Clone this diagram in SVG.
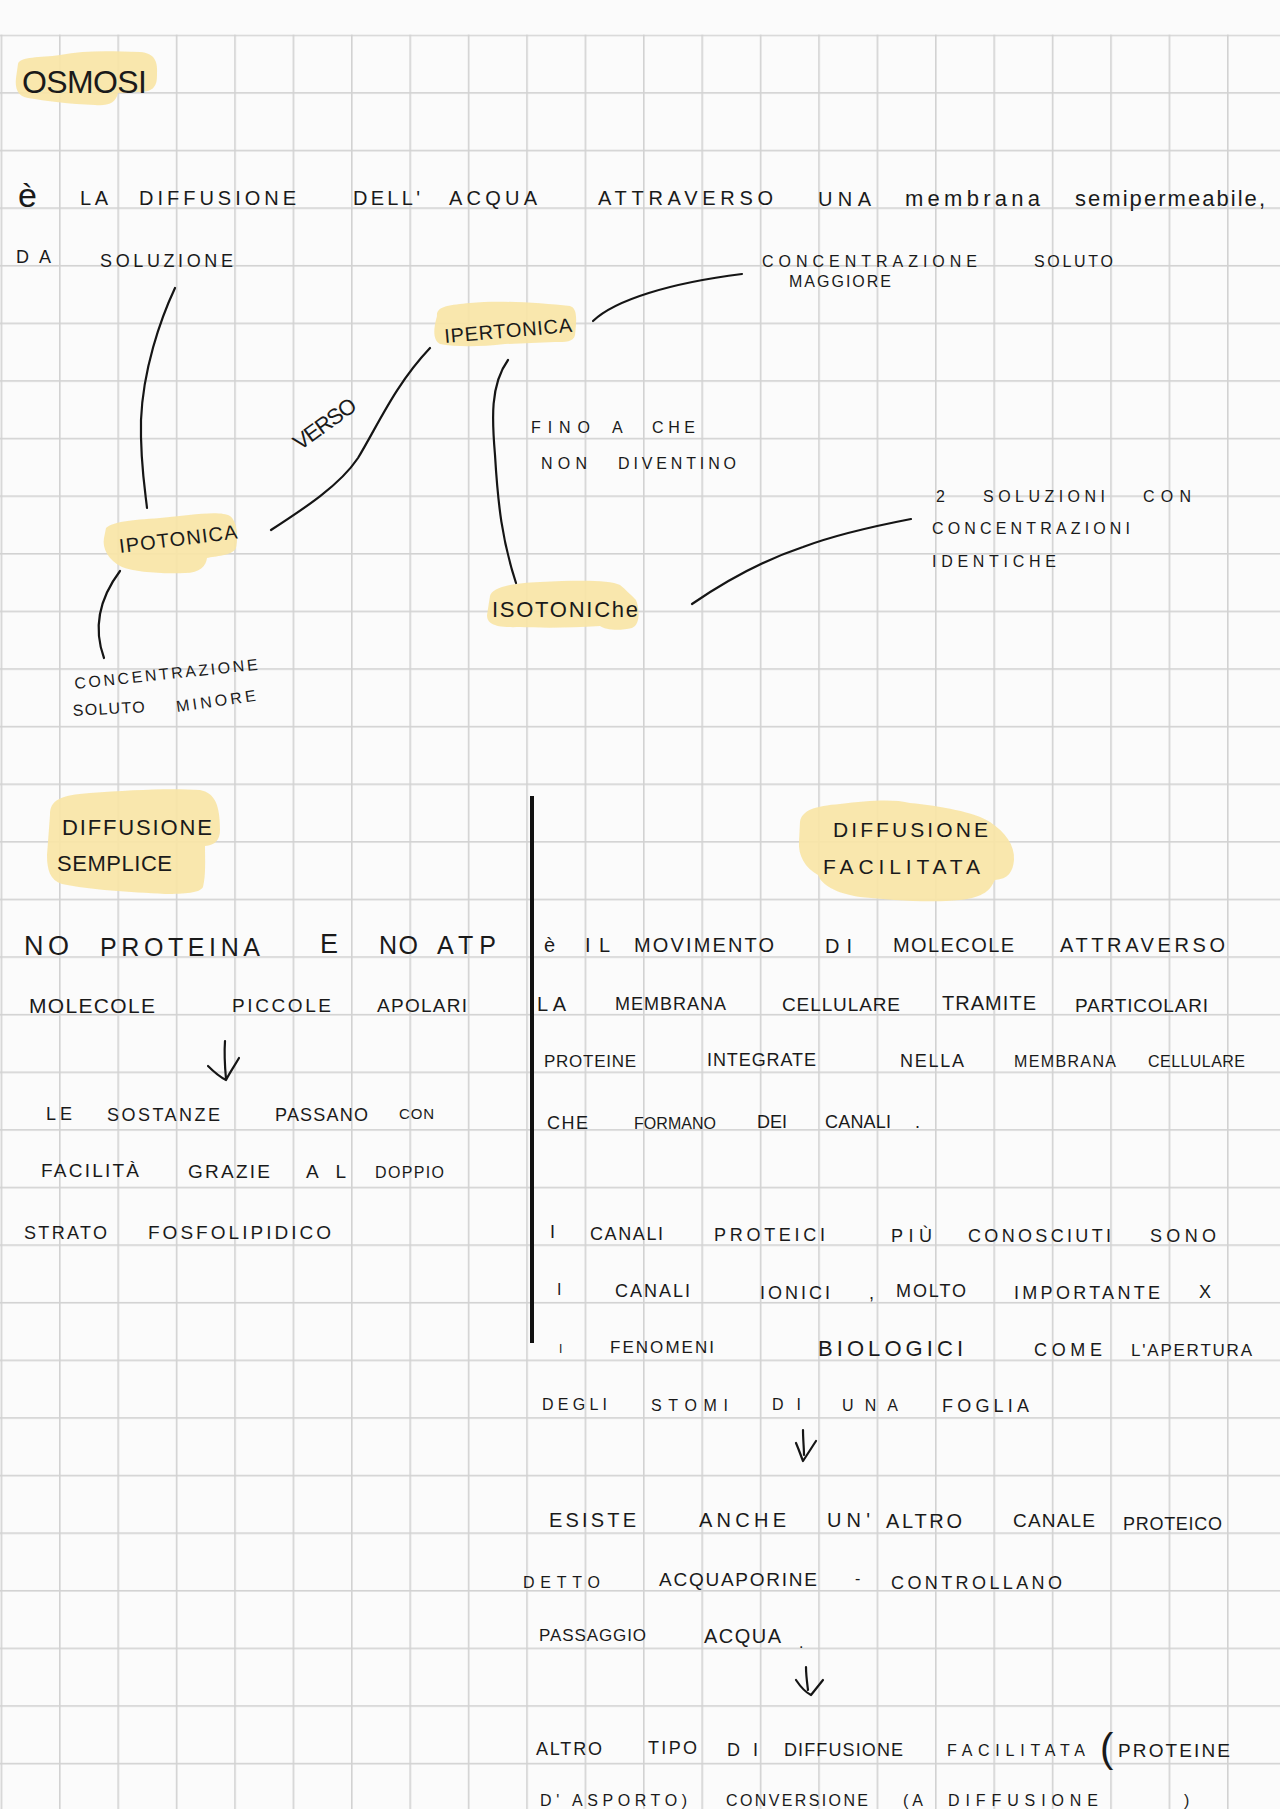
<svg xmlns="http://www.w3.org/2000/svg" width="1280" height="1809" viewBox="0 0 1280 1809">
<defs>
<pattern id="grid" patternUnits="userSpaceOnUse" x="0.6" y="34.5" width="58.4" height="57.61">
<rect x="0" y="0" width="58.4" height="1.6" fill="#d2d2d2"/>
<rect x="0" y="0" width="1.6" height="57.61" fill="#d2d2d2"/>
</pattern>
<style>
text { font-family: "Liberation Sans", Arial, sans-serif; fill: #1a1a1a; }
.hl { fill: #f9e5a6; opacity: 0.92; }
.ink { fill: none; stroke: #151515; stroke-width: 2.2; stroke-linecap: round; stroke-linejoin: round; }
.f15 { font-size: 15px; }
.f16 { font-size: 16px; }
.f17 { font-size: 17px; }
.f18 { font-size: 18px; }
.f19 { font-size: 19px; }
.f20 { font-size: 20px; }
.f21 { font-size: 21px; }
.f22 { font-size: 22px; }
.f25 { font-size: 25px; }
.f27 { font-size: 27px; }
.f32 { font-size: 32px; }
</style>
</defs>
<rect x="0" y="0" width="1280" height="1809" fill="#fbfbfb"/>
<rect x="0" y="34.5" width="1280" height="1775" fill="url(#grid)"/>

<g id="highlights">
<path class="hl" d="M18,64 C20,56 40,58 60,55 C85,50 110,51 140,52 C155,53 158,62 157,75 C157,88 152,92 138,92 L118,93 C116,103 108,106 95,105 C70,104 45,101 28,98 C17,96 15,88 16,78 Z"/>
<path class="hl" d="M437,316 C436,306 450,305 470,303 C500,300 540,303 570,306 C577,308 577,318 575,335 C574,342 565,342 555,342 L505,344 C480,347 455,347 440,344 C433,340 433,330 437,316 Z"/>
<path class="hl" d="M106,528 C112,522 130,520 160,518 C190,515 220,510 230,516 C238,522 238,540 236,548 C232,556 215,556 207,558 C206,566 200,573 185,573 C160,574 135,572 122,567 C108,560 102,548 104,538 Z"/>
<path class="hl" d="M490,596 C492,588 510,583 540,582 C580,580 610,580 620,585 C626,590 630,594 636,600 C640,610 640,625 632,628 C620,631 605,630 600,626 C570,628 540,628 520,627 C495,628 487,624 487,615 Z"/>
<path class="hl" d="M50,815 C50,800 60,795 90,793 C130,790 170,788 200,790 C215,793 220,805 220,830 C220,840 215,845 205,846 C205,860 206,875 203,887 C200,893 185,894 165,894 C130,892 90,890 62,884 C50,880 47,870 47,855 Z"/>
<path class="hl" d="M800,822 C802,810 815,806 840,804 C870,800 895,799 910,803 C940,806 975,812 990,822 C1005,832 1015,845 1014,860 C1013,872 1008,879 995,880 C990,890 985,897 960,900 C930,903 890,900 860,897 C835,893 822,885 818,875 C805,868 798,855 799,842 Z"/>
</g>

<g id="connectors">
<path class="ink" d="M175,288 C160,320 143,370 141,420 C140,460 145,490 147,508"/>
<path class="ink" d="M271,530 C305,508 340,485 358,458 C378,425 395,385 430,348"/>
<path class="ink" d="M593,321 C615,300 670,283 742,274"/>
<path class="ink" d="M508,360 C490,385 492,420 495,455 C498,505 502,540 516,583"/>
<path class="ink" d="M692,604 C730,578 770,558 803,547 C840,533 880,525 911,519"/>
<path class="ink" d="M120,571 C102,595 92,625 104,658"/>
<path class="ink" d="M225,1041 C224,1055 225,1068 226,1079 M208,1066 C214,1072 220,1077 226,1080 C230,1072 235,1065 239,1058"/>
<path class="ink" d="M803,1430 C803,1440 804,1448 804,1455 M796,1443 C799,1450 801,1456 803,1461 C807,1455 812,1447 816,1441"/>
<path class="ink" d="M806,1667 C806,1675 807,1682 808,1690 M796,1680 C800,1686 805,1692 811,1695 C815,1690 819,1685 823,1680"/>
</g>

<line x1="532" y1="796" x2="532" y2="1343" stroke="#111" stroke-width="4"/>

<g id="osmosi"><text class="f32" x="22" y="93" textLength="125" lengthAdjust="spacing">OSMOSI</text></g>

<g id="definizione">
<text x="18" y="207" style="font-size:34px" textLength="27" lengthAdjust="spacing">è</text>
<text class="f20" x="80" y="205" textLength="28" lengthAdjust="spacing">LA</text>
<text class="f20" x="139" y="205" textLength="157" lengthAdjust="spacing">DIFFUSIONE</text>
<text class="f20" x="353" y="205" textLength="67" lengthAdjust="spacing">DELL'</text>
<text class="f20" x="449" y="205" textLength="88" lengthAdjust="spacing">ACQUA</text>
<text class="f20" x="598" y="205" textLength="175" lengthAdjust="spacing">ATTRAVERSO</text>
<text class="f20" x="818" y="206" textLength="53" lengthAdjust="spacing">UNA</text>
<text class="f22" x="905" y="206" textLength="135" lengthAdjust="spacing">membrana</text>
<text class="f22" x="1075" y="206" textLength="190" lengthAdjust="spacing">semipermeabile,</text>
<text class="f18" x="16" y="263" textLength="35" lengthAdjust="spacing">DA</text>
<text class="f18" x="100" y="267" textLength="133" lengthAdjust="spacing">SOLUZIONE</text>
</g>

<g id="conc-maggiore">
<text class="f16" x="762" y="267" textLength="215" lengthAdjust="spacing">CONCENTRAZIONE</text>
<text class="f16" x="1034" y="267" textLength="79" lengthAdjust="spacing">SOLUTO</text>
<text class="f16" x="789" y="287" textLength="102" lengthAdjust="spacing">MAGGIORE</text>
</g>

<g id="ipertonica"><text class="f20" x="445" y="343" textLength="128" lengthAdjust="spacing" transform="rotate(-5 445 343)">IPERTONICA</text></g>

<g id="verso"><text class="f22" x="300" y="451" textLength="72" lengthAdjust="spacing" transform="rotate(-36 300 451)">VERSO</text></g>

<g id="fino">
<text class="f16" x="531" y="433" textLength="59" lengthAdjust="spacing">FINO</text>
<text class="f16" x="612" y="433" textLength="16" lengthAdjust="spacing">A</text>
<text class="f16" x="652" y="433" textLength="43" lengthAdjust="spacing">CHE</text>
<text class="f16" x="541" y="469" textLength="46" lengthAdjust="spacing">NON</text>
<text class="f16" x="618" y="469" textLength="118" lengthAdjust="spacing">DIVENTINO</text>
</g>

<g id="ipotonica"><text class="f20" x="120" y="553" textLength="119" lengthAdjust="spacing" transform="rotate(-7 120 553)">IPOTONICA</text></g>

<g id="due-soluzioni">
<text class="f16" x="936" y="502" textLength="12" lengthAdjust="spacing">2</text>
<text class="f16" x="983" y="502" textLength="122" lengthAdjust="spacing">SOLUZIONI</text>
<text class="f16" x="1143" y="502" textLength="48" lengthAdjust="spacing">CON</text>
<text class="f16" x="932" y="534" textLength="198" lengthAdjust="spacing">CONCENTRAZIONI</text>
<text class="f16" x="932" y="567" textLength="124" lengthAdjust="spacing">IDENTICHE</text>
</g>

<g id="isotoniche"><text class="f22" x="492" y="617" textLength="146" lengthAdjust="spacing">ISOTONIChe</text></g>

<g id="conc-minore">
<text class="f16" x="75" y="689" textLength="184" lengthAdjust="spacing" transform="rotate(-6 75 689)">CONCENTRAZIONE</text>
<text class="f16" x="73" y="716" textLength="72" lengthAdjust="spacing" transform="rotate(-3 73 716)">SOLUTO</text>
<text class="f16" x="177" y="712" textLength="80" lengthAdjust="spacing" transform="rotate(-8 177 712)">MINORE</text>
</g>

<g id="diffusione-semplice">
<text class="f22" x="62" y="835" textLength="150" lengthAdjust="spacing">DIFFUSIONE</text>
<text class="f22" x="57" y="871" textLength="115" lengthAdjust="spacing">SEMPLICE</text>
</g>

<g id="semplice-testo">
<text class="f27" x="24" y="955" textLength="45" lengthAdjust="spacing">NO</text>
<text class="f25" x="100" y="956" textLength="160" lengthAdjust="spacing">PROTEINA</text>
<text class="f27" x="320" y="953" textLength="31" lengthAdjust="spacing">E</text>
<text class="f25" x="379" y="954" textLength="39" lengthAdjust="spacing">NO</text>
<text class="f25" x="437" y="954" textLength="59" lengthAdjust="spacing">ATP</text>
<text class="f21" x="29" y="1013" textLength="126" lengthAdjust="spacing">MOLECOLE</text>
<text class="f19" x="232" y="1012" textLength="99" lengthAdjust="spacing">PICCOLE</text>
<text class="f19" x="377" y="1012" textLength="90" lengthAdjust="spacing">APOLARI</text>
<text class="f18" x="46" y="1120" textLength="26" lengthAdjust="spacing">LE</text>
<text class="f18" x="107" y="1121" textLength="113" lengthAdjust="spacing">SOSTANZE</text>
<text class="f18" x="275" y="1121" textLength="93" lengthAdjust="spacing">PASSANO</text>
<text class="f15" x="399" y="1119" textLength="35" lengthAdjust="spacing">CON</text>
<text class="f19" x="41" y="1177" textLength="98" lengthAdjust="spacing">FACILITÀ</text>
<text class="f19" x="188" y="1178" textLength="82" lengthAdjust="spacing">GRAZIE</text>
<text class="f19" x="306" y="1178" textLength="40" lengthAdjust="spacing">AL</text>
<text class="f16" x="375" y="1178" textLength="69" lengthAdjust="spacing">DOPPIO</text>
<text class="f18" x="24" y="1239" textLength="83" lengthAdjust="spacing">STRATO</text>
<text class="f19" x="148" y="1239" textLength="183" lengthAdjust="spacing">FOSFOLIPIDICO</text>
</g>

<g id="diffusione-facilitata">
<text class="f21" x="833" y="837" textLength="155" lengthAdjust="spacing">DIFFUSIONE</text>
<text class="f21" x="823" y="874" textLength="157" lengthAdjust="spacing">FACILITATA</text>
</g>

<g id="facilitata-testo">
<text class="f20" x="544" y="952" textLength="17" lengthAdjust="spacing">è</text>
<text class="f20" x="585" y="952" textLength="25" lengthAdjust="spacing">IL</text>
<text class="f20" x="634" y="952" textLength="140" lengthAdjust="spacing">MOVIMENTO</text>
<text class="f20" x="825" y="953" textLength="27" lengthAdjust="spacing">DI</text>
<text class="f20" x="893" y="952" textLength="121" lengthAdjust="spacing">MOLECOLE</text>
<text class="f20" x="1060" y="952" textLength="165" lengthAdjust="spacing">ATTRAVERSO</text>
<text class="f20" x="537" y="1011" textLength="29" lengthAdjust="spacing">LA</text>
<text class="f18" x="615" y="1010" textLength="111" lengthAdjust="spacing">MEMBRANA</text>
<text class="f19" x="782" y="1011" textLength="118" lengthAdjust="spacing">CELLULARE</text>
<text class="f20" x="942" y="1010" textLength="94" lengthAdjust="spacing">TRAMITE</text>
<text class="f19" x="1075" y="1012" textLength="133" lengthAdjust="spacing">PARTICOLARI</text>
<text class="f17" x="544" y="1067" textLength="92" lengthAdjust="spacing">PROTEINE</text>
<text class="f18" x="707" y="1066" textLength="109" lengthAdjust="spacing">INTEGRATE</text>
<text class="f18" x="900" y="1067" textLength="64" lengthAdjust="spacing">NELLA</text>
<text class="f16" x="1014" y="1067" textLength="102" lengthAdjust="spacing">MEMBRANA</text>
<text class="f16" x="1148" y="1067" textLength="97" lengthAdjust="spacing">CELLULARE</text>
<text class="f18" x="547" y="1129" textLength="41" lengthAdjust="spacing">CHE</text>
<text class="f16" x="634" y="1129" textLength="82" lengthAdjust="spacing">FORMANO</text>
<text class="f18" x="757" y="1128" textLength="30" lengthAdjust="spacing">DEI</text>
<text class="f18" x="825" y="1128" textLength="66" lengthAdjust="spacing">CANALI</text>
<text class="f18" x="915" y="1128">.</text>
<text class="f18" x="550" y="1238">I</text>
<text class="f18" x="590" y="1240" textLength="73" lengthAdjust="spacing">CANALI</text>
<text class="f18" x="714" y="1241" textLength="111" lengthAdjust="spacing">PROTEICI</text>
<text class="f18" x="891" y="1242" textLength="41" lengthAdjust="spacing">PIÙ</text>
<text class="f18" x="968" y="1242" textLength="143" lengthAdjust="spacing">CONOSCIUTI</text>
<text class="f18" x="1150" y="1242" textLength="66" lengthAdjust="spacing">SONO</text>
<text class="f16" x="557" y="1295">I</text>
<text class="f18" x="615" y="1297" textLength="75" lengthAdjust="spacing">CANALI</text>
<text class="f18" x="760" y="1299" textLength="70" lengthAdjust="spacing">IONICI</text>
<text class="f18" x="869" y="1299">,</text>
<text class="f18" x="896" y="1297" textLength="70" lengthAdjust="spacing">MOLTO</text>
<text class="f18" x="1014" y="1299" textLength="146" lengthAdjust="spacing">IMPORTANTE</text>
<text class="f18" x="1199" y="1298" textLength="17" lengthAdjust="spacing">X</text>
<text style="font-size:12px" x="559" y="1353">I</text>
<text class="f17" x="610" y="1353" textLength="104" lengthAdjust="spacing">FENOMENI</text>
<text class="f22" x="818" y="1356" textLength="145" lengthAdjust="spacing">BIOLOGICI</text>
<text class="f18" x="1034" y="1356" textLength="68" lengthAdjust="spacing">COME</text>
<text class="f17" x="1131" y="1356" textLength="121" lengthAdjust="spacing">L'APERTURA</text>
<text class="f16" x="542" y="1410" textLength="65" lengthAdjust="spacing">DEGLI</text>
<text class="f16" x="651" y="1411" textLength="77" lengthAdjust="spacing">STOMI</text>
<text class="f16" x="772" y="1410" textLength="29" lengthAdjust="spacing">DI</text>
<text class="f16" x="842" y="1411" textLength="56" lengthAdjust="spacing">UNA</text>
<text class="f18" x="942" y="1412" textLength="87" lengthAdjust="spacing">FOGLIA</text>
<text class="f20" x="549" y="1527" textLength="87" lengthAdjust="spacing">ESISTE</text>
<text class="f20" x="699" y="1527" textLength="87" lengthAdjust="spacing">ANCHE</text>
<text class="f20" x="827" y="1527" textLength="43" lengthAdjust="spacing">UN'</text>
<text class="f20" x="886" y="1528" textLength="76" lengthAdjust="spacing">ALTRO</text>
<text class="f19" x="1013" y="1527" textLength="82" lengthAdjust="spacing">CANALE</text>
<text class="f18" x="1123" y="1530" textLength="99" lengthAdjust="spacing">PROTEICO</text>
<text class="f16" x="523" y="1588" textLength="77" lengthAdjust="spacing">DETTO</text>
<text class="f19" x="659" y="1586" textLength="158" lengthAdjust="spacing">ACQUAPORINE</text>
<text class="f16" x="855" y="1584">-</text>
<text class="f18" x="891" y="1589" textLength="171" lengthAdjust="spacing">CONTROLLANO</text>
<text class="f17" x="539" y="1641" textLength="107" lengthAdjust="spacing">PASSAGGIO</text>
<text class="f20" x="704" y="1643" textLength="77" lengthAdjust="spacing">ACQUA</text>
<text class="f16" x="799" y="1648">.</text>
<text class="f18" x="536" y="1755" textLength="66" lengthAdjust="spacing">ALTRO</text>
<text class="f18" x="648" y="1754" textLength="49" lengthAdjust="spacing">TIPO</text>
<text class="f18" x="727" y="1756" textLength="31" lengthAdjust="spacing">DI</text>
<text class="f18" x="784" y="1756" textLength="119" lengthAdjust="spacing">DIFFUSIONE</text>
<text class="f16" x="947" y="1756" textLength="138" lengthAdjust="spacing">FACILITATA</text>
<text style="font-size:40px" x="1100" y="1762">(</text>
<text class="f19" x="1118" y="1757" textLength="112" lengthAdjust="spacing">PROTEINE</text>
<text class="f16" x="540" y="1806" textLength="147" lengthAdjust="spacing">D' ASPORTO)</text>
<text class="f16" x="726" y="1806" textLength="142" lengthAdjust="spacing">CONVERSIONE</text>
<text class="f16" x="903" y="1806" textLength="20" lengthAdjust="spacing">(A</text>
<text class="f16" x="948" y="1806" textLength="150" lengthAdjust="spacing">DIFFUSIONE</text>
<text class="f16" x="1184" y="1806">)</text>
</g>
</svg>
